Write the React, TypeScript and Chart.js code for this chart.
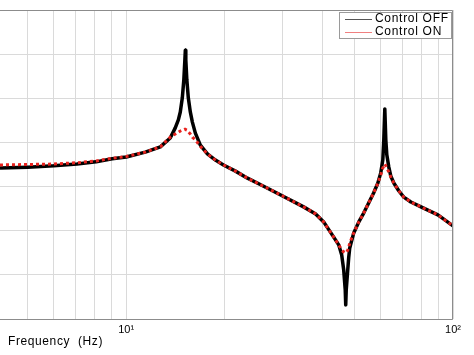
import { useEffect, useRef } from 'react';
import { Chart, registerables } from 'chart.js';

Chart.register(...registerables);

const FREQ_HZ = [4.11, 5.0, 6.0, 7.07, 8.09, 9.06, 10, 11.44, 12.72, 13.64, 14.13, 14.44, 14.64, 14.85, 15.01, 15.12, 15.17, 15.22, 15.33, 15.49, 15.71, 15.94, 16.28, 16.86, 17.72, 18.75, 19.84, 21.6, 23.5, 25.8, 29.7, 34.9, 38.0, 40.2, 43.1, 44.7, 45.65, 46.3, 46.8, 46.96, 47.13, 47.63, 47.97, 48.31, 49.69, 51.5, 53.3, 55.2, 57.2, 58.9, 60.1, 60.98, 61.41, 61.85, 62.29, 62.73, 63.62, 64.5, 65.9, 68.3, 70.7, 74.3, 79.8, 89.9, 100];

const CONTROL_OFF = [3.42, 3.44, 3.47, 3.51, 3.56, 3.63, 3.67, 3.78, 3.90, 4.10, 4.33, 4.51, 4.69, 5.01, 5.42, 5.87, 6.09, 5.87, 5.42, 5.01, 4.69, 4.46, 4.21, 3.94, 3.74, 3.60, 3.49, 3.35, 3.19, 3.04, 2.81, 2.54, 2.38, 2.20, 1.86, 1.68, 1.45, 1.11, 0.66, 0.32, 0.66, 1.11, 1.40, 1.61, 1.95, 2.20, 2.40, 2.63, 2.86, 3.08, 3.31, 3.60, 4.06, 4.76, 4.06, 3.72, 3.44, 3.24, 3.08, 2.90, 2.76, 2.65, 2.54, 2.36, 2.11];

const CONTROL_ON = [3.49, 3.50, 3.51, 3.54, 3.58, 3.64, 3.68, 3.78, 3.90, 4.12, 4.19, 4.23, 4.26, 4.28, 4.29, 4.30, 4.30, 4.29, 4.28, 4.24, 4.19, 4.12, 4.06, 3.91, 3.74, 3.60, 3.49, 3.35, 3.19, 3.04, 2.81, 2.54, 2.38, 2.20, 1.86, 1.68, 1.56, 1.52, 1.50, 1.50, 1.50, 1.56, 1.63, 1.72, 1.95, 2.20, 2.40, 2.63, 2.86, 3.08, 3.26, 3.42, 3.47, 3.51, 3.47, 3.42, 3.33, 3.22, 3.08, 2.90, 2.76, 2.65, 2.54, 2.36, 2.11];

const SERIES_LABELS = ['Control OFF', 'Control ON'];
const X_TICKS = [5, 6, 7, 8, 9, 10, 20, 30, 40, 50, 60, 70, 80, 90, 100];
const X_TICK_LABELS: Record<number, string> = { 10: '10\u00B9', 100: '10\u00B2' };
const X_TITLE = 'Frequency  (Hz)';
const X_MIN = 4.11;
const X_MAX = 100;
const Y_MIN = 0;
const Y_MAX = 7;

const FONT = '"Liberation Sans", Arial, Helvetica, sans-serif';
const OFF_COLOR = '#000000';
const ON_COLOR = '#e8231f';

const framePlugin = {
  id: 'frameAndLegend',
  afterDraw(chart: any) {
    const { ctx, chartArea } = chart;
    const { left, top, right, bottom } = chartArea;
    ctx.save();
    // axes frame (top, right, bottom)
    ctx.strokeStyle = '#8c8c8c';
    ctx.lineWidth = 1;
    ctx.beginPath();
    ctx.moveTo(left, top + 0.5);
    ctx.lineTo(right - 0.5, top + 0.5);
    ctx.lineTo(right - 0.5, bottom + 0.5);
    ctx.lineTo(left, bottom + 0.5);
    ctx.stroke();

    // legend box
    const bx0 = right - 114;
    const by0 = top + 2;
    const bw = 113;
    const bh = 27;
    ctx.fillStyle = '#ffffff';
    ctx.fillRect(bx0, by0, bw, bh);
    ctx.strokeStyle = '#9a9a9a';
    ctx.strokeRect(bx0 + 0.5, by0 + 0.5, bw - 1, bh - 1);

    const ds = chart.data.datasets;
    const rows = [top + 9, top + 22];
    ctx.font = `12px ${FONT}`;
    (ctx as any).letterSpacing = '0.7px';
    ctx.textBaseline = 'middle';
    ctx.textAlign = 'left';
    rows.forEach((y: number, i: number) => {
      ctx.beginPath();
      ctx.strokeStyle = i === 0 ? '#555555' : '#f08080';
      ctx.lineWidth = 1;
      ctx.setLineDash([]);
      ctx.moveTo(bx0 + 6, y + 0.5);
      ctx.lineTo(bx0 + 33, y + 0.5);
      ctx.stroke();
      ctx.fillStyle = '#000000';
      ctx.fillText(ds[i].label, bx0 + 36, y);
    });

    // x axis title
    ctx.font = `12px ${FONT}`;
    (ctx as any).letterSpacing = '0.6px';
    ctx.textBaseline = 'middle';
    ctx.fillStyle = '#000000';
    ctx.fillText(X_TITLE, 8, 342);
    ctx.restore();
  },
};

export default function App() {
  const canvasRef = useRef<HTMLCanvasElement | null>(null);

  useEffect(() => {
    if (!canvasRef.current) return;
    const chart = new Chart(canvasRef.current, {
      type: 'line',
      data: {
        datasets: [
          {
            label: SERIES_LABELS[0],
            data: FREQ_HZ.map((f, i) => ({ x: f, y: CONTROL_OFF[i] })),
            borderColor: OFF_COLOR,
            borderWidth: 3.5,
            borderJoinStyle: 'round',
            pointRadius: 0,
            tension: 0,
            order: 1,
          },
          {
            label: SERIES_LABELS[1],
            data: FREQ_HZ.map((f, i) => ({ x: f, y: CONTROL_ON[i] })),
            borderColor: ON_COLOR,
            borderWidth: 3,
            borderDash: [3, 3],
            pointRadius: 0,
            tension: 0,
            order: 0,
          },
        ],
      },
      options: {
        responsive: false,
        animation: false,
        layout: { padding: { top: 10, right: 21, left: 0, bottom: 0 } },
        plugins: {
          legend: { display: false },
          tooltip: { enabled: false },
        },
        scales: {
          x: {
            type: 'logarithmic',
            min: X_MIN,
            max: X_MAX,
            afterBuildTicks: (scale: any) => {
              scale.ticks = X_TICKS.map((v) => ({ value: v }));
            },
            afterFit: (scale: any) => {
              scale.height = 36;
            },
            grid: { color: '#dadada', lineWidth: 1, drawTicks: false },
            border: { display: false },
            ticks: {
              autoSkip: false,
              maxRotation: 0,
              padding: 4,
              color: '#000000',
              font: { family: FONT, size: 11 },
              callback: (value: any) => X_TICK_LABELS[Number(value)] ?? '',
            },
          },
          y: {
            type: 'linear',
            min: Y_MIN,
            max: Y_MAX,
            afterFit: (scale: any) => {
              scale.width = 0;
            },
            grid: { color: '#dadada', lineWidth: 1, drawTicks: false },
            border: { display: false },
            ticks: { display: false, stepSize: 1 },
          },
        },
      },
      plugins: [framePlugin],
    });
    return () => chart.destroy();
  }, []);

  return (
    <div style={{ position: 'fixed', left: 0, top: 0, width: 474, height: 355, background: '#ffffff' }}>
      <canvas ref={canvasRef} width={474} height={355} style={{ display: 'block' }} />
    </div>
  );
}
